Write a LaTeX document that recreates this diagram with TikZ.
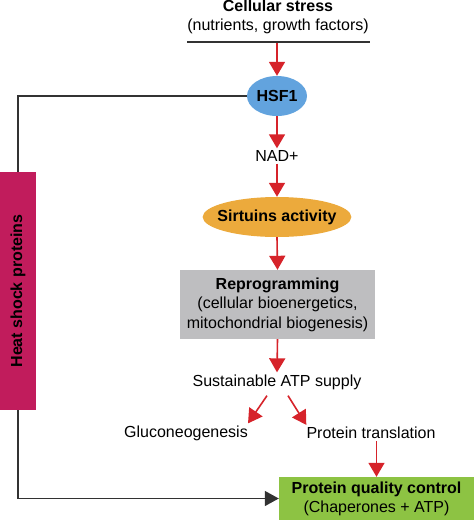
\documentclass[tikz,border=0pt]{standalone}
\usepackage{fontspec}
\setmainfont{Liberation Sans}
\usetikzlibrary{arrows.meta,positioning,shapes.geometric}

\definecolor{arrowred}{RGB}{214,35,42}
\definecolor{hsfblue}{RGB}{98,163,222}
\definecolor{sirtorange}{RGB}{236,170,60}
\definecolor{repgray}{RGB}{190,190,192}
\definecolor{hspmagenta}{RGB}{193,28,92}
\definecolor{pqcgreen}{RGB}{141,195,67}
\definecolor{linegray}{RGB}{50,50,50}

\begin{document}
\begin{tikzpicture}[
    x=1pt, y=-1pt,
    font=\fontsize{16}{19}\selectfont,
    label/.style={align=center, inner sep=2pt},
    oval/.style={ellipse, inner sep=0pt, minimum height=40pt},
    panel/.style={rectangle, align=center, inner sep=0pt, font=\fontsize{16}{19.5}\selectfont},
    redarrow/.style={-{Triangle[width=16pt,length=14pt]}, arrowred, line width=1.6pt},
    grayline/.style={linegray, line width=1.4pt}
]
    \useasboundingbox (0,0) rectangle (474,520);

    % top input
    \node[label] (stress) at (278,17) {\textbf{Cellular stress}\\(nutrients, growth factors)};
    \coordinate (barL) at (187,42);
    \coordinate (barR) at (370,42);
    \coordinate (barM) at (277,42);
    \draw[grayline] (barL) -- (barR);

    % main chain
    \node[oval, fill=hsfblue, minimum width=60pt] (hsf) at (277,96) {\textbf{HSF1}};
    \node[label] (nad) at (277,156) {NAD+};
    \node[oval, fill=sirtorange, inner xsep=-7pt, minimum width=147pt] (sirt) at (277,217) {\textbf{Sirtuins activity}};
    \node[panel, fill=repgray, minimum width=195pt, minimum height=69pt] (rep) at (277.5,304.5)
        {\textbf{Reprogramming}\\(cellular bioenergetics,\\mitochondrial biogenesis)};
    \node[label] (atp) at (277,382) {Sustainable ATP supply};
    \node[label] (gluco) at (186,433) {Gluconeogenesis};
    \node[label] (trans) at (371,433) {Protein translation};
    \node[panel, fill=pqcgreen, minimum width=195pt, minimum height=43pt, font=\fontsize{16}{19}\selectfont] (pqc) at (376.5,498.5)
        {\textbf{Protein quality control}\\(Chaperones + ATP)};

    % side bar
    \node[panel, fill=hspmagenta, rotate=90, minimum width=238pt, minimum height=36pt] (hsp) at (18,291)
        {\textbf{Heat shock proteins}};

    \draw[redarrow] ([yshift=-1pt]barM) -- (hsf.north);
    \draw[redarrow] (hsf.south) -- (nad.north);
    \draw[redarrow] (nad.south) -- (sirt.north);
    \draw[redarrow] (sirt.south) -- (rep.north);
    \draw[redarrow] (rep.south) -- (atp.north);
    \draw[redarrow] ([xshift=-10pt,yshift=-4pt]atp.south) -- ([xshift=-2pt]gluco.north east);
    \draw[redarrow] ([xshift=11pt,yshift=-4pt]atp.south) -- ([xshift=2pt]trans.north west);
    \draw[redarrow] (trans.south -| pqc.north) -- (pqc.north);

    \draw[grayline] (hsf.west) -| (hsp.east);
    \draw[grayline, -{Triangle[width=15pt,length=14pt]}] (hsp.west) |- (pqc.west);
\end{tikzpicture}
\end{document}
